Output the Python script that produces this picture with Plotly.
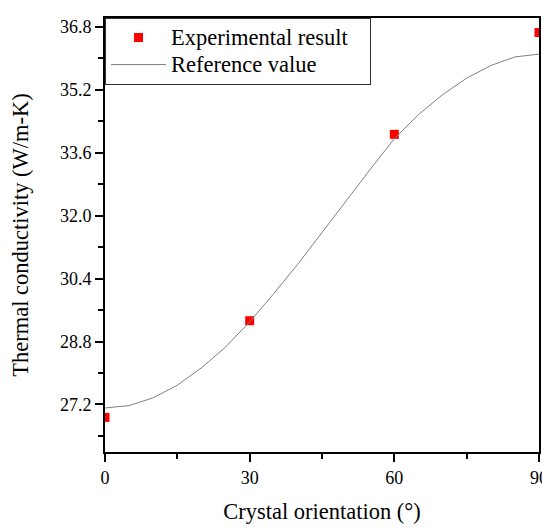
import plotly.graph_objects as go

# Data
exp_angle = [0, 30, 60, 90]
exp_value = [26.87, 29.33, 34.07, 36.66]

ref_angle = [0, 5, 10, 15, 20, 25, 30, 35, 40, 45, 50, 55, 60, 65, 70, 75, 80, 85, 90]
ref_value = [27.11, 27.17, 27.37, 27.69, 28.13, 28.66, 29.30, 30.02, 30.77, 31.57,
             32.40, 33.18, 33.96, 34.57, 35.08, 35.50, 35.82, 36.04, 36.11]

x_ticks = [0, 30, 60, 90]
x_minor = [15, 45, 75]
y_ticks = [27.2, 28.8, 30.4, 32.0, 33.6, 35.2, 36.8]
y_minor = [26.4, 28.0, 29.6, 31.2, 32.8, 34.4, 36.0]

FONT = "Liberation Serif, Times New Roman, serif"
PAD = "\u00a0\u00a0\u00a0"


def big(s):
    return "<span style='font-size:22.5px'>" + s + "</span>"


fig = go.Figure()
fig.add_trace(go.Scatter(
    x=exp_angle, y=exp_value, mode="markers", name=big("Experimental result" + PAD),
    marker=dict(symbol="square", size=9, color="#ff0000"),
))
fig.add_trace(go.Scatter(
    x=ref_angle, y=ref_value, mode="lines", name=big("Reference value"),
    line=dict(color="#808080", width=1),
))

# page body has an 8px margin, so the figure is offset by (8, 8)
fig.update_layout(
    width=542, height=520,
    margin=dict(l=97, r=11, t=10, b=76),
    paper_bgcolor="white", plot_bgcolor="white",
    font=dict(family=FONT, color="black", size=18),
    showlegend=True,
    legend=dict(
        x=0, y=1, xanchor="left", yanchor="top",
        bgcolor="white", bordercolor="#333333", borderwidth=1,
        font=dict(family=FONT, size=18.5, color="black"),
        tracegroupgap=0, itemwidth=55,
    ),
)

fig.update_xaxes(
    range=[0, 90], tickvals=x_ticks, ticktext=[str(v) for v in x_ticks],
    ticks="outside", ticklen=8, tickwidth=1.5, tickcolor="black",
    showline=True, linecolor="black", linewidth=2, mirror=True,
    showgrid=False, zeroline=False, automargin=False,
    tickfont=dict(family=FONT, size=18),
    minor=dict(tickvals=x_minor, ticks="outside", ticklen=5, tickwidth=1.5, tickcolor="black"),
    title=dict(text="Crystal orientation (°)", font=dict(family=FONT, size=22.5), standoff=17),
)
fig.update_yaxes(
    range=[25.99, 37.03], tickvals=y_ticks, ticktext=[f"{v:.1f}" for v in y_ticks],
    ticks="outside", ticklen=8, tickwidth=1.5, tickcolor="black",
    showline=True, linecolor="black", linewidth=2, mirror=True,
    showgrid=False, zeroline=False, automargin=False,
    tickfont=dict(family=FONT, size=18),
    minor=dict(tickvals=y_minor, ticks="outside", ticklen=5, tickwidth=1.5, tickcolor="black"),
    title=dict(text="Thermal conductivity (W/m-K)", font=dict(family=FONT, size=22.5), standoff=26),
)

fig.write_html("out.html")
